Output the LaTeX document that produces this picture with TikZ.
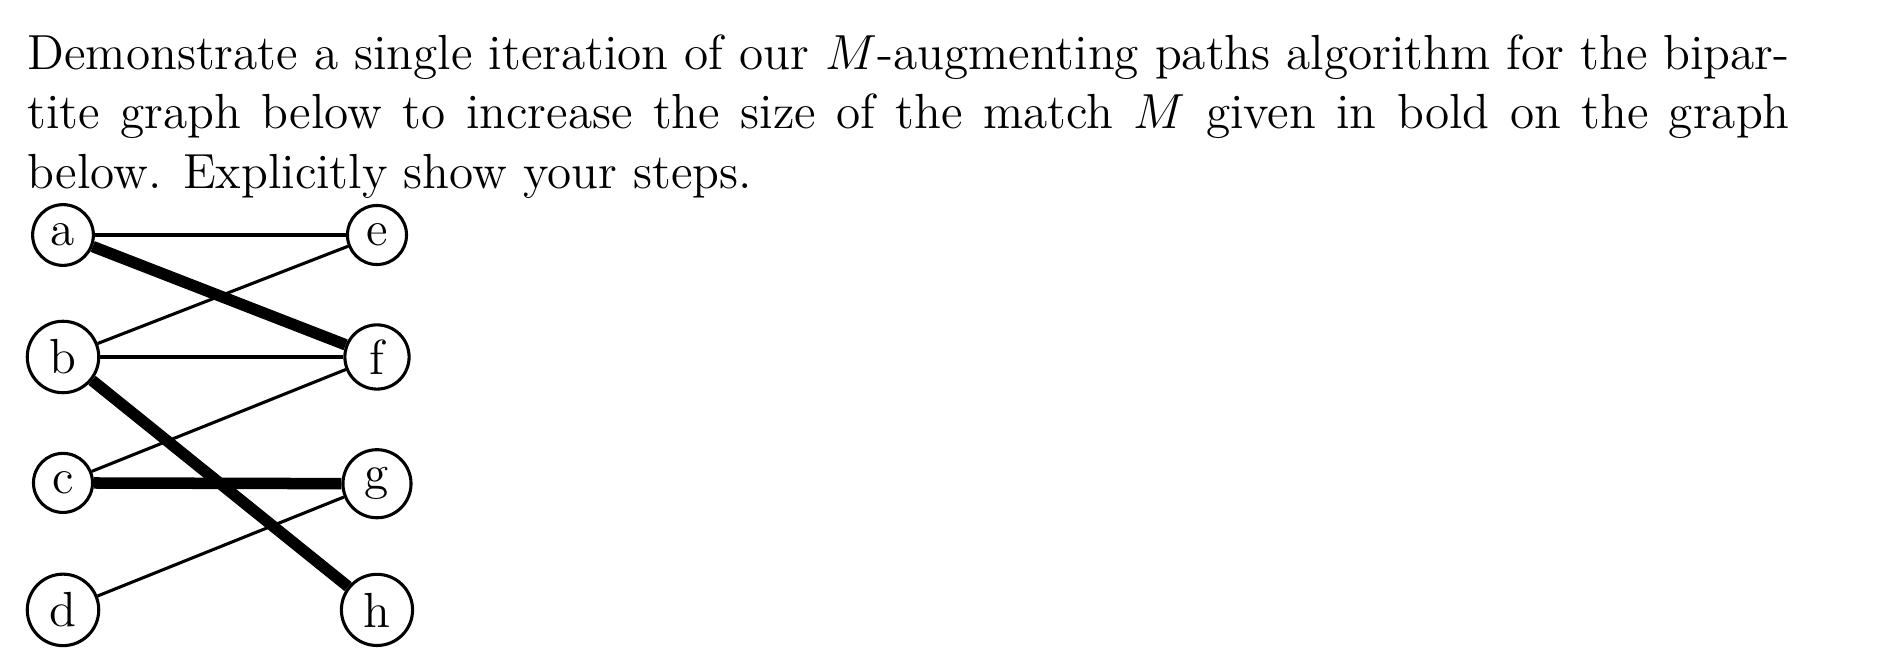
\documentclass[tikz,border=0pt]{standalone}
\begin{document}
\begin{tikzpicture}[x=1pt,y=1pt,
  vert/.style={circle,draw,line width=0.75pt,inner sep=2.4pt,font=\fontsize{12}{14.5}\selectfont},
  edge/.style={line width=0.75pt},
  matched/.style={line width=2.8pt}]
\useasboundingbox (0,0) rectangle (462.8,-160.8);
\node[anchor=base west,inner sep=0pt,text width=428.8pt,align=justify,font=\fontsize{12}{14.5}\selectfont] (txt) at (6.5,-16.8)
 {\noindent Demonstrate a single iteration of our \mbox{$M$-augmenting} paths algorithm for the bipar-\linebreak tite graph below to increase the size of the match $M$ given in bold on the graph\linebreak below. Explicitly show your steps.};
\node[vert] (a) at (15.33,-57.18) {a};
\node[vert] (b) at (15.33,-86.86) {b};
\node[vert] (c) at (15.33,-117.5) {c};
\node[vert] (d) at (15.33,-148.4) {d};
\node[vert] (e) at (91.73,-57.18) {e};
\node[vert] (f) at (91.73,-86.86) {f};
\node[vert] (g) at (91.73,-117.7) {g};
\node[vert] (h) at (91.73,-148.4) {h};
\draw[edge] (a) -- (e);
\draw[edge] (b) -- (e);
\draw[edge] (b) -- (f);
\draw[edge] (c) -- (f);
\draw[edge] (d) -- (g);
\draw[matched] (a) -- (f);
\draw[matched] (b) -- (h);
\draw[matched] (c) -- (g);
\end{tikzpicture}
\end{document}
